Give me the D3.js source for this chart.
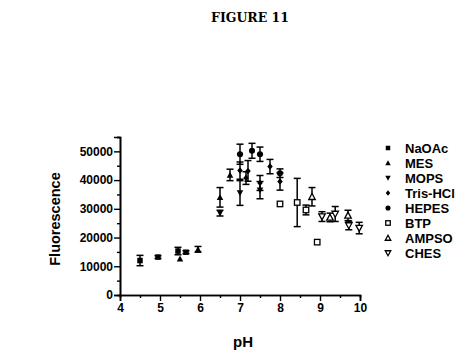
<!DOCTYPE html>
<html><head><meta charset="utf-8">
<script src="https://cdn.jsdelivr.net/npm/d3@7"></script>
<style>body{margin:0;background:#fff}svg{display:block}</style>
</head><body>
<script>
// Data: [pH, fluorescence, error]
const naoac  = [[4.5,12000,1800],[4.95,13200,500],[5.45,15300,1300],[5.65,14900,500]];
const mes    = [[5.5,12600,0],[5.95,15900,1000],[6.5,34000,3400],[6.75,41800,2000]];
const mops   = [[6.5,28500,1000],[7.0,35500,4300],[7.5,36500,3000]];
const tris   = [[7.0,43300,3000],[7.15,40700,2200],[7.2,43200,3600],[7.5,39000,2600],[7.75,44700,2500],[8.0,39500,3000]];
const hepes  = [[7.0,49000,3500],[7.3,50200,2600],[7.5,49000,2500],[8.0,42400,1500]];
const btp    = [[8.0,31700,0],[8.43,32200,8400],[8.65,29600,1700],[8.93,18400,0]];
const ampso  = [[8.8,34200,3200],[9.25,27000,1500],[9.7,27700,1800]];
const ches   = [[9.05,27300,1700],[9.38,28200,2600],[9.72,24200,1500],[9.98,23300,2000]];
const seriesNames = ["NaOAc","MES","MOPS","Tris-HCl","HEPES","BTP","AMPSO","CHES"];
const seriesData = [naoac,mes,mops,tris,hepes,btp,ampso,ches];
const seriesShapes = ["square","triangle","itriangle","diamond","circle","osquare","otriangle","oitriangle"];
const xTicks = [4,5,6,7,8,9,10];
const yTicks = [0,10000,20000,30000,40000,50000];

const W=474,H=359;
const svg=d3.select("body").append("svg").attr("width",W).attr("height",H);
const x=d3.scaleLinear().domain([4,10]).range([120,360]);
const y=d3.scaleLinear().domain([0,55000]).range([295,137]);
const font="Liberation Sans, Arial, Helvetica, sans-serif";

svg.append("text").attr("x",250).attr("y",22).attr("text-anchor","middle")
  .attr("font-family","DejaVu Serif, serif").attr("font-weight","bold").attr("font-size",12.5)
  .text("FIGURE 11");

// axes
const xAxis=svg.append("g").attr("transform",`translate(0,${y(0)})`)
  .call(d3.axisBottom(x).tickValues(xTicks).tickFormat(d3.format("d")).tickSize(6).tickPadding(2));
svg.append("g").attr("transform",`translate(0,${y(0)})`)
  .call(d3.axisBottom(x).tickValues(d3.range(4.5,10,1)).tickFormat("").tickSize(3));
const yAxis=svg.append("g").attr("transform",`translate(${x(4)},0)`)
  .call(d3.axisLeft(y).tickValues(yTicks).tickFormat(d3.format("d")).tickSize(6).tickPadding(1));
svg.append("g").attr("transform",`translate(${x(4)},0)`)
  .call(d3.axisLeft(y).tickValues(d3.range(5000,56000,10000)).tickFormat("").tickSize(3));
svg.selectAll(".domain").attr("stroke","#000").attr("stroke-width",1.6);
svg.selectAll(".tick line").attr("stroke","#000").attr("stroke-width",1.4);
svg.selectAll(".tick text").attr("font-family",font).attr("font-weight","bold").attr("font-size",12).attr("fill","#000");

svg.append("text").attr("transform",`translate(60,${(y(0)+y(55000))/2+3}) rotate(-90)`)
  .attr("text-anchor","middle").attr("font-family",font).attr("font-weight","bold").attr("font-size",14.5)
  .text("Fluorescence");
svg.append("text").attr("x",243).attr("y",347).attr("text-anchor","middle")
  .attr("font-family",font).attr("font-weight","bold").attr("font-size",15).text("pH");

function drawShape(g,shape,cx,cy,s){
  const open=shape.startsWith("o");
  const base=open?shape.slice(1):shape;
  let el;
  if(base==="square") el=g.append("rect").attr("x",cx-s/2).attr("y",cy-s/2).attr("width",s).attr("height",s);
  else if(base==="circle") el=g.append("circle").attr("cx",cx).attr("cy",cy).attr("r",s/2+0.3);
  else if(base==="triangle") el=g.append("path").attr("d",`M${cx},${cy-s/2-0.5}L${cx+s/2+0.5},${cy+s/2}L${cx-s/2-0.5},${cy+s/2}Z`);
  else if(base==="itriangle") el=g.append("path").attr("d",`M${cx},${cy+s/2+0.5}L${cx+s/2+0.5},${cy-s/2}L${cx-s/2-0.5},${cy-s/2}Z`);
  else if(base==="diamond") el=g.append("path").attr("d",`M${cx},${cy-s/2-0.5}L${cx+s/2},${cy}L${cx},${cy+s/2+0.5}L${cx-s/2},${cy}Z`);
  if(open) el.attr("fill","#fff").attr("stroke","#000").attr("stroke-width",1.3);
  else el.attr("fill","#000");
}

const plot=svg.append("g");
seriesData.forEach((data,i)=>{
  const g=plot.append("g");
  data.forEach(([px,v,e])=>{
    const cx=x(px),cy=y(v);
    if(e>0){
      const y1=y(v+e),y2=y(v-e);
      g.append("line").attr("x1",cx).attr("x2",cx).attr("y1",y1).attr("y2",y2).attr("stroke","#000").attr("stroke-width",1.5);
      [y1,y2].forEach(yy=>g.append("line").attr("x1",cx-3.5).attr("x2",cx+3.5).attr("y1",yy).attr("y2",yy).attr("stroke","#000").attr("stroke-width",1.5));
    }
    drawShape(g,seriesShapes[i],cx,cy,5.5);
  });
});

// legend
const lg=svg.append("g");
seriesNames.forEach((n,i)=>{
  const ly=148+i*15;
  drawShape(lg,seriesShapes[i],388,ly,4.5);
  lg.append("text").attr("x",405).attr("y",ly+4.5).attr("font-family",font).attr("font-weight","bold")
    .attr("font-size",13).text(n);
});
</script>
</body></html>
